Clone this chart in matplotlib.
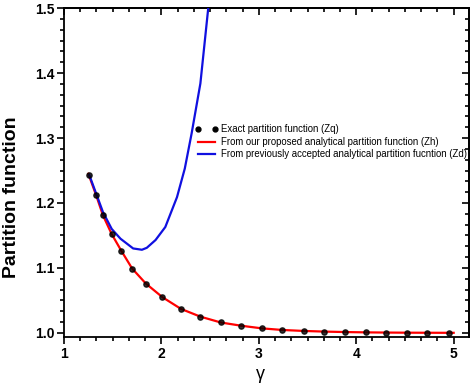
import matplotlib
matplotlib.use("Agg")
import matplotlib.pyplot as plt
from matplotlib.ticker import MultipleLocator
from matplotlib.lines import Line2D

plt.rcParams['font.family'] = ['Liberation Sans', 'DejaVu Sans']

gamma_q = [1.26, 1.33, 1.40, 1.49, 1.59, 1.70, 1.84, 2.01, 2.20, 2.40, 2.61,
           2.82, 3.03, 3.24, 3.46, 3.67, 3.88, 4.10, 4.31, 4.52, 4.73, 4.95]
z_q = [1.243, 1.212, 1.181, 1.152, 1.126, 1.099, 1.076, 1.055, 1.037, 1.025, 1.016,
       1.011, 1.007, 1.0045, 1.003, 1.002, 1.0013, 1.0008, 1.0005, 1.0003, 1.0002, 1.0001]

gamma_h = [1.25, 1.33, 1.40, 1.49, 1.59, 1.70, 1.84, 2.01, 2.20, 2.40, 2.61,
           2.82, 3.03, 3.24, 3.46, 3.67, 3.88, 4.10, 4.31, 4.52, 4.73, 4.95, 5.0]
z_h = [1.245, 1.212, 1.181, 1.152, 1.126, 1.099, 1.076, 1.055, 1.037, 1.025, 1.016,
       1.011, 1.007, 1.0045, 1.003, 1.002, 1.0013, 1.0008, 1.0005, 1.0003, 1.0002, 1.0001, 1.0001]

gamma_d = [1.26, 1.33, 1.40, 1.49, 1.58, 1.71, 1.80, 1.85, 1.94, 2.04, 2.16,
           2.24, 2.31, 2.40, 2.48, 2.50]
z_d = [1.243, 1.2145, 1.186, 1.160, 1.145, 1.130, 1.128, 1.131, 1.143, 1.163, 1.209,
       1.253, 1.307, 1.384, 1.499, 1.52]

labels = ["Exact partition function (Zq)",
          "From our proposed analytical partition function (Zh)",
          "From previously accepted analytical partition fucntion (Zd)"]

fig = plt.figure(figsize=(4.74, 3.88), dpi=100)
ax = fig.add_axes([0.135, 0.132, 0.855, 0.847])

ax.plot(gamma_h, z_h, color='#ff0000', lw=1.6, zorder=2)
ax.plot(gamma_d, z_d, color='#1010e0', lw=1.6, zorder=3)
ax.plot(gamma_q, z_q, 'o', color='black', ms=3.8, zorder=4, alpha=0.8)

ax.set_xlim(1.0, 5.16)
ax.set_ylim(0.994, 1.5)
ax.xaxis.set_major_locator(MultipleLocator(1))
ax.xaxis.set_minor_locator(MultipleLocator(1/6))
ax.yaxis.set_major_locator(MultipleLocator(0.1))
ax.yaxis.set_minor_locator(MultipleLocator(0.1/6))
ax.tick_params(which='both', direction='out', width=1.2, top=False, right=False,
               labelsize=10, pad=2)
ax.tick_params(which='major', length=5)
ax.tick_params(which='minor', length=3)
for lab in ax.get_xticklabels() + ax.get_yticklabels():
    lab.set_fontweight('bold')
for s in ax.spines.values():
    s.set_linewidth(1.3)

secx = ax.secondary_xaxis('top')
secx.xaxis.set_major_locator(MultipleLocator(1))
secx.xaxis.set_minor_locator(MultipleLocator(1/6))
secx.tick_params(which='both', direction='in', width=1.2, labeltop=False)
secx.tick_params(which='major', length=5)
secx.tick_params(which='minor', length=3)
secx.spines['top'].set_linewidth(1.3)

secy = ax.secondary_yaxis('right')
secy.yaxis.set_major_locator(MultipleLocator(0.1))
secy.yaxis.set_minor_locator(MultipleLocator(0.1/6))
secy.tick_params(which='both', direction='in', width=1.2, labelright=False)
secy.tick_params(which='major', length=5)
secy.tick_params(which='minor', length=3)
secy.spines['right'].set_linewidth(1.3)

ax.set_ylabel('Partition function', fontsize=14, fontweight='bold')
ax.yaxis.set_label_coords(-0.109, 0.424)
ax.set_xlabel('γ', fontsize=13)
ax.xaxis.set_label_coords(0.484, -0.088)

handles = [Line2D([], [], ls='none', marker='o', color='black', ms=3.5),
           Line2D([], [], color='#ff0000', lw=1.6),
           Line2D([], [], color='#1010e0', lw=1.6)]
ax.legend(handles, labels, loc='upper left', bbox_to_anchor=(0.323, 0.646),
          frameon=False, fontsize=6.9, numpoints=2, handlelength=2.4,
          handletextpad=0.3, labelspacing=0.25, borderaxespad=0, borderpad=0)

fig.savefig('out.png', dpi=100)
